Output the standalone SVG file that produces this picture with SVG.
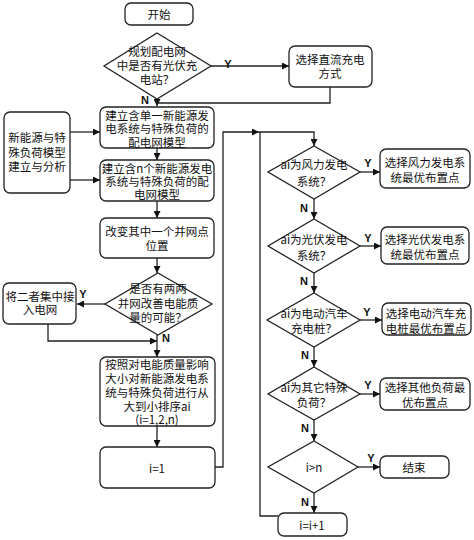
<svg xmlns="http://www.w3.org/2000/svg" width="474" height="540" viewBox="0 0 474 540">
<defs>
<marker id="ah" viewBox="0 0 10 10" refX="10" refY="5" markerWidth="7" markerHeight="7" markerUnits="userSpaceOnUse" orient="auto">
<path d="M0,0 L10,5 L0,10 z" fill="#111"/>
</marker>
</defs>
<style>
.box{fill:#fff;stroke:#222;stroke-width:1.3}
.t{font-family:"Noto Sans CJK SC","Liberation Sans",sans-serif;font-size:11.5px;fill:#111;text-anchor:middle;dominant-baseline:central}
.l{font-family:"Liberation Sans",Arial,sans-serif;font-size:11px;font-weight:bold;fill:#111;text-anchor:middle;dominant-baseline:central}
.c{fill:none;stroke:#222;stroke-width:1.3}
</style>
<rect width="474" height="540" fill="#fff"/>

<g id="connectors">
<path class="c" d="M157,99 V106" marker-end="url(#ah)"/>
<path class="c" d="M211,66 H289" marker-end="url(#ah)"/>
<path class="c" d="M330,87 V103 H157"/>
<path class="c" d="M70,132 H100" marker-end="url(#ah)"/>
<path class="c" d="M70,180 H100" marker-end="url(#ah)"/>
<path class="c" d="M157,148 V160" marker-end="url(#ah)"/>
<path class="c" d="M157,201 V218" marker-end="url(#ah)"/>
<path class="c" d="M157,258 V273" marker-end="url(#ah)"/>
<path class="c" d="M105,304 H77" marker-end="url(#ah)"/>
<path class="c" d="M48,324 V341 H157" marker-end="url(#ah)"/>
<path class="c" d="M157,335 V357" marker-end="url(#ah)"/>
<path class="c" d="M157,426 V447" marker-end="url(#ah)"/>
<path class="c" d="M215,467 H223 V132 H259" marker-end="url(#ah)"/>
<path class="c" d="M259,132 H314 V146" marker-end="url(#ah)"/>
<path class="c" d="M278,516 H260 V132"/>
<path class="c" d="M360,172 H380" marker-end="url(#ah)"/>
<path class="c" d="M314,199 V219" marker-end="url(#ah)"/>
<path class="c" d="M360,246 H381" marker-end="url(#ah)"/>
<path class="c" d="M314,273 V293" marker-end="url(#ah)"/>
<path class="c" d="M360,320 H382" marker-end="url(#ah)"/>
<path class="c" d="M314,347 V367" marker-end="url(#ah)"/>
<path class="c" d="M360,394 H380" marker-end="url(#ah)"/>
<path class="c" d="M314,420 V441" marker-end="url(#ah)"/>
<path class="c" d="M358,467 H380" marker-end="url(#ah)"/>
<path class="c" d="M314,493 V513" marker-end="url(#ah)"/>
<text class="l" x="228" y="64">Y</text>
<text class="l" x="145" y="100">N</text>
<text class="l" x="83" y="294">Y</text>
<text class="l" x="166" y="338">N</text>
<text class="l" x="368" y="163">Y</text>
<text class="l" x="304" y="208">N</text>
<text class="l" x="368" y="238">Y</text>
<text class="l" x="304" y="281">N</text>
<text class="l" x="367" y="312">Y</text>
<text class="l" x="305" y="355">N</text>
<text class="l" x="368" y="385">Y</text>
<text class="l" x="305" y="428">N</text>
<text class="l" x="371" y="458">Y</text>
<text class="l" x="305" y="502">N</text>
</g>

<g id="start">
<rect class="box" x="125" y="3" width="68" height="22" rx="6"/>
<text class="t" x="159" y="14">开始</text>
</g>

<g id="d1">
<polygon class="box" points="157,33 211,66 157,99 104,66"/>
<text class="t"><tspan x="157" y="51">规划配电网</tspan><tspan x="157" y="65">中是否有光伏充</tspan><tspan x="157" y="79">电站？</tspan></text>
</g>

<g id="dc">
<rect class="box" x="289" y="46" width="83" height="41" rx="6"/>
<text class="t"><tspan x="330" y="59">选择直流充电</tspan><tspan x="330" y="73">方式</tspan></text>
</g>

<g id="model-left">
<rect class="box" x="4" y="112" width="66" height="81" rx="6"/>
<text class="t"><tspan x="37" y="137">新能源与特</tspan><tspan x="37" y="152">殊负荷模型</tspan><tspan x="37" y="166">建立与分析</tspan></text>
</g>

<g id="box-single">
<rect class="box" x="100" y="107" width="114" height="41" rx="6"/>
<text class="t"><tspan x="157" y="115">建立含单一新能源发</tspan><tspan x="157" y="128">电系统与特殊负荷的</tspan><tspan x="157" y="142">配电网模型</tspan></text>
</g>

<g id="box-n">
<rect class="box" x="100" y="160" width="114" height="41" rx="6"/>
<text class="t"><tspan x="157" y="168">建立含n个新能源发电</tspan><tspan x="157" y="181">系统与特殊负荷的配</tspan><tspan x="157" y="194">电网模型</tspan></text>
</g>

<g id="box-change">
<rect class="box" x="100" y="218" width="114" height="40" rx="6"/>
<text class="t"><tspan x="157" y="231">改变其中一个并网点</tspan><tspan x="157" y="245">位置</tspan></text>
</g>

<g id="d2">
<polygon class="box" points="158,273 212,304 158,335 105,304"/>
<text class="t"><tspan x="158" y="288">是否有两两</tspan><tspan x="158" y="303">并网改善电能质</tspan><tspan x="158" y="317">量的可能？</tspan></text>
</g>

<g id="box-join">
<rect class="box" x="3" y="283" width="73" height="41" rx="6"/>
<text class="t"><tspan x="40" y="296">将二者集中接</tspan><tspan x="40" y="309">入电网</tspan></text>
</g>

<g id="box-sort">
<rect class="box" x="100" y="357" width="115" height="69" rx="6"/>
<text class="t"><tspan x="157" y="364">按照对电能质量影响</tspan><tspan x="157" y="378">大小对新能源发电系</tspan><tspan x="157" y="392">统与特殊负荷进行从</tspan><tspan x="157" y="406">大到小排序ai</tspan><tspan x="157" y="419">(i=1,2,n)</tspan></text>
</g>

<g id="box-i1">
<rect class="box" x="100" y="447" width="115" height="41" rx="6"/>
<text class="t" x="157" y="468">i=1</text>
</g>

<g id="d-wind">
<polygon class="box" points="314,146 360,172 314,199 268,172"/>
<text class="t"><tspan x="314" y="164">ai为风力发电</tspan><tspan x="314" y="181">系统？</tspan></text>
</g>
<g id="b-wind">
<rect class="box" x="380" y="149" width="90" height="39" rx="6"/>
<text class="t"><tspan x="425" y="162">选择风力发电系</tspan><tspan x="425" y="177">统最优布置点</tspan></text>
</g>

<g id="d-pv">
<polygon class="box" points="314,219 360,246 314,273 268,246"/>
<text class="t"><tspan x="314" y="239">ai为光伏发电</tspan><tspan x="314" y="255">系统？</tspan></text>
</g>
<g id="b-pv">
<rect class="box" x="381" y="227" width="88" height="37" rx="6"/>
<text class="t"><tspan x="425" y="239">选择光伏发电系</tspan><tspan x="425" y="254">统最优布置点</tspan></text>
</g>

<g id="d-ev">
<polygon class="box" points="314,293 360,320 314,347 267,320"/>
<text class="t"><tspan x="314" y="313">ai为电动汽车</tspan><tspan x="314" y="328">充电桩？</tspan></text>
</g>
<g id="b-ev">
<rect class="box" x="382" y="303" width="89" height="32" rx="6"/>
<text class="t"><tspan x="426" y="313">选择电动汽车充</tspan><tspan x="426" y="328">电桩最优布置点</tspan></text>
</g>

<g id="d-other">
<polygon class="box" points="314,367 360,394 314,420 268,394"/>
<text class="t"><tspan x="314" y="387">ai为其它特殊</tspan><tspan x="314" y="402">负荷？</tspan></text>
</g>
<g id="b-other">
<rect class="box" x="380" y="378" width="90" height="32" rx="6"/>
<text class="t"><tspan x="425" y="387">选择其他负荷最</tspan><tspan x="425" y="402">优布置点</tspan></text>
</g>

<g id="d-end">
<polygon class="box" points="314,441 358,467 314,493 268,467"/>
<text class="t" x="314" y="467">i&gt;n</text>
</g>
<g id="b-end">
<rect class="box" x="380" y="456" width="69" height="22" rx="6"/>
<text class="t" x="414" y="467">结束</text>
</g>

<g id="b-inc">
<rect class="box" x="278" y="513" width="69" height="23" rx="6"/>
<text class="t" x="312" y="525">i=i+1</text>
</g>
</svg>
